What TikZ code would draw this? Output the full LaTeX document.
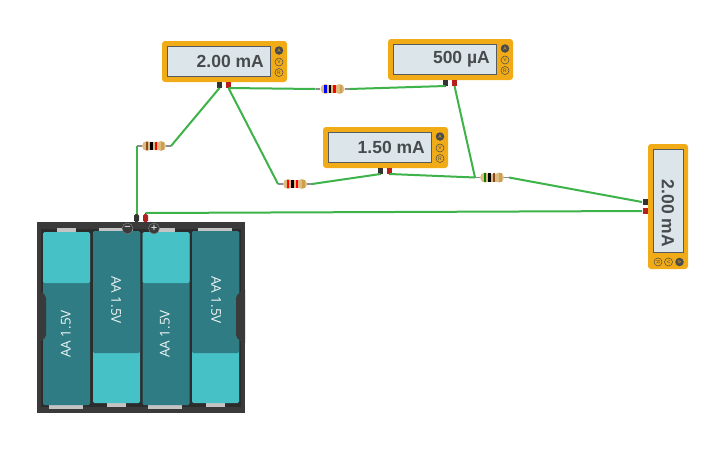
\documentclass[tikz,border=0pt]{standalone}
\usepackage{fontspec}
\setmainfont{Liberation Sans}
\newfontfamily\cellfont{Open Sans}
\definecolor{meterorange}{HTML}{F0AB17}
\definecolor{screenfill}{HTML}{DCE5E9}
\definecolor{screenedge}{HTML}{555B5E}
\definecolor{readout}{HTML}{474B4D}
\definecolor{wiregreen}{HTML}{3DB34A}
\definecolor{leadgrey}{HTML}{8C8C8C}
\definecolor{bodytan}{HTML}{DDBB82}
\definecolor{bandgold}{HTML}{C9A24A}
\definecolor{bandbrown}{HTML}{8A4B20}
\definecolor{holderout}{HTML}{3A3A3A}
\definecolor{holderin}{HTML}{2C2C2C}
\definecolor{celldark}{HTML}{2F7C84}
\definecolor{celllight}{HTML}{46C1C6}
\definecolor{tabgrey}{HTML}{C4C4C4}
\definecolor{probered}{HTML}{B5201F}
\definecolor{probeblack}{HTML}{333333}
\tikzset{
  box/.style={inner sep=0pt,outer sep=0pt,rectangle},
  meterbody/.style={box,fill=meterorange,rounded corners=3pt},
  meterscreen/.style={box,fill=screenfill,draw=screenedge,line width=1.2pt},
  reading/.style={inner sep=0pt,font=\bfseries\fontsize{17.5}{18}\selectfont,text=readout},
  modeoff/.style={circle,inner sep=0pt,minimum size=8pt,draw=readout,line width=0.5pt,fill=meterorange,text=readout,font=\fontsize{5}{5}\selectfont},
  modeon/.style={circle,inner sep=0pt,minimum size=8.5pt,fill=readout,text=meterorange,font=\fontsize{5}{5}\selectfont},
  probeb/.style={box,fill=probeblack,minimum width=5.5pt,minimum height=6pt},
  prober/.style={box,fill=probered,minimum width=5.5pt,minimum height=6pt},
  wire/.style={draw=wiregreen,line width=2pt},
  lead/.style={draw=leadgrey,line width=1.3pt},
  rbody/.style={box,fill=bodytan,minimum width=20pt,minimum height=8pt},
  bulge/.style={circle,inner sep=0pt,fill=bodytan,minimum size=10pt},
  band/.style={box,minimum width=2.6pt,minimum height=8.5pt},
  cell/.style={box,rounded corners=1.5pt,minimum width=47pt},
  tab/.style={box,fill=tabgrey},
  celltext/.style={inner sep=0pt,text=white!92!celldark,font=\cellfont\fontsize{13.5}{14}\selectfont},
  polarity/.style={circle,inner sep=0pt,minimum size=11pt,fill=holderout,draw=tabgrey!70!black,line width=0.4pt,text=white,font=\fontsize{11}{11}\selectfont},
}
\newcommand{\HMeter}[4]{%
  \node[meterbody,minimum width=125pt,minimum height=41pt] (#1) at (#2,#3) {};
  \node[meterscreen,minimum width=103.5pt,minimum height=30pt] (#1s) at (#2-5.5,#3) {};
  \node[reading,anchor=east] (#1t) at (#2+39.5,#3) {#4};
  \node[modeon] (#1a) at (#2+54.5,#3-11) {A};
  \node[modeoff] (#1v) at (#2+54.5,#3+0.5) {V};
  \node[modeoff] (#1r) at (#2+54.5,#3+11) {R};
  \node[probeb] (#1pb) at (#2-5,#3+23) {};
  \node[prober] (#1pr) at (#2+4,#3+23) {};
  \coordinate (#1nb) at (#2-5,#3+26.5);
  \coordinate (#1nr) at (#2+4,#3+26.5);
  \draw[probeblack,line width=1.6pt] (#1pb.south) -- (#1nb);
  \draw[probered,line width=1.6pt] (#1pr.south) -- (#1nr);
}
\newcommand{\Resistor}[7]{%
  \coordinate (#1l) at (#2-17,#3);
  \coordinate (#1r) at (#2+17,#3);
  \node[rbody] (#1) at (#2,#3) {};
  \node[bulge] (#1e) at (#2-7,#3) {};
  \node[bulge] (#1f) at (#2+7,#3) {};
  \draw[lead] (#1l) -- (#1e.west);
  \draw[lead] (#1f.east) -- (#1r);
  \node[band,fill=#4] (#1x) at (#2-7,#3) {};
  \node[band,fill=#5] (#1y) at (#2-2.5,#3) {};
  \node[band,fill=#6] (#1z) at (#2+2,#3) {};
  \node[band,fill=#7] (#1w) at (#2+8.5,#3) {};
}
\begin{document}
\begin{tikzpicture}[x=1pt,y=-1pt]
\useasboundingbox (0,0) rectangle (725,453);
\fill[white] (0,0) rectangle (725,453);

% battery holder
\node[box,fill=holderout,minimum width=208pt,minimum height=191pt] (holder) at (141,317.5) {};
\node[box,fill=holderin,minimum width=200pt,minimum height=178pt] (inner) at (141,318) {};

% tabs
\node[tab,minimum width=19pt,minimum height=4pt] (t1a) at (66.5,230) {};
\node[tab,minimum width=34pt,minimum height=4pt] (t1b) at (66,406.5) {};
\node[tab,minimum width=34pt,minimum height=4pt] (t2a) at (116,229.5) {};
\node[tab,minimum width=19pt,minimum height=4pt] (t2b) at (116,404.5) {};
\node[tab,minimum width=19pt,minimum height=4pt] (t3a) at (165.5,230) {};
\node[tab,minimum width=34pt,minimum height=4pt] (t3b) at (165,406.5) {};
\node[tab,minimum width=34pt,minimum height=4pt] (t4a) at (215,229.5) {};
\node[tab,minimum width=19pt,minimum height=4pt] (t4b) at (215,404.5) {};

% cells
\node[cell,fill=celldark,minimum height=173pt] (c1) at (66.5,318.5) {};
\node[box,rounded corners=1.5pt,fill=celllight,minimum width=47pt,minimum height=51pt] (c1l) at (66.5,257.5) {};
\node[cell,fill=celllight,minimum height=172pt] (c2) at (116.5,317) {};
\node[box,fill=celldark,rounded corners=1.5pt,minimum width=47pt,minimum height=122pt] (c2d) at (116.5,292) {};
\node[cell,fill=celldark,minimum height=173pt] (c3) at (166,318.5) {};
\node[box,rounded corners=1.5pt,fill=celllight,minimum width=47pt,minimum height=51pt] (c3l) at (166,257.5) {};
\node[cell,fill=celllight,minimum height=172pt] (c4) at (215.5,317) {};
\node[box,fill=celldark,rounded corners=1.5pt,minimum width=47pt,minimum height=122pt] (c4d) at (215.5,292) {};

% side notches
\fill[holderout,rounded corners=2pt] (37,288) -- (46,296) -- (46,337) -- (37,345) -- cycle;
\fill[holderout,rounded corners=2pt] (245,288) -- (236,296) -- (236,337) -- (245,345) -- cycle;

\node[celltext,rotate=90] (l1) at (66,334) {AA 1.5V};
\node[celltext,rotate=-90] (l2) at (116,300) {AA 1.5V};
\node[celltext,rotate=90] (l3) at (165,334) {AA 1.5V};
\node[celltext,rotate=-90] (l4) at (216,300) {AA 1.5V};

\node[polarity] (minus) at (127.5,228.5) {−};
\node[polarity] (plus) at (154,228.5) {+};

% battery terminals
\node[box,fill=probeblack,rounded corners=1.5pt,minimum width=5pt,minimum height=8pt] (bb) at (136.5,218) {};
\node[box,fill=probered,rounded corners=1.5pt,minimum width=5pt,minimum height=8pt] (br) at (145.5,218) {};
\coordinate (brn) at (145.5,213);

% meters
\HMeter{ma}{224.5}{61.5}{2.00 mA}
\HMeter{mb}{450.5}{59.5}{500 µA}
\HMeter{mc}{385.5}{147.5}{1.50 mA}

% vertical meter
\node[meterbody,minimum width=40pt,minimum height=125pt] (md) at (668,206.5) {};
\node[meterscreen,minimum width=30pt,minimum height=103.5pt] (mds) at (668.5,201) {};
\node[reading,rotate=-90,anchor=east] (mdt) at (668,247) {2.00 mA};
\node[modeoff,rotate=-90] (mdr) at (658,262) {R};
\node[modeoff,rotate=-90] (mdv) at (668.5,262) {V};
\node[modeon,rotate=-90] (mda) at (679.5,262) {A};
\node[box,fill=probeblack,minimum width=5.5pt,minimum height=5.5pt] (mdpb) at (645.5,202) {};
\node[box,fill=probered,minimum width=5.5pt,minimum height=5.5pt] (mdpr) at (645.5,211) {};
\coordinate (mdnb) at (642,202);
\coordinate (mdnr) at (642,211);

% resistors
\Resistor{ra}{154}{146}{bandbrown}{black}{red}{bandgold}
\Resistor{rb}{332.5}{89}{blue}{black}{red}{bandgold}
\Resistor{rc}{295}{184}{red}{black}{red}{bandgold}
\Resistor{rd}{492}{177.5}{green!50!black}{black}{bandbrown}{bandgold}

\coordinate (bend) at (136.5,146);

% wires
\draw[lead] (bend) -- (ral);
\draw[wire] (bb.north) -- (bend);
\draw[wire] (rar) -- (manb);
\draw[wire] (manr) -- (rbl);
\draw[wire] (rbr) -- (mbnb);
\draw[wire] (manr) -- (rcl);
\draw[wire] (rcr) -- (mcnb);
\draw[wire] (mcnr) -- (rdl);
\draw[wire] (mbnr) -- (rdl);
\draw[wire] (rdr) -- (mdnb);
\draw[wire] (brn) -- (mdnr);
\draw[probered,line width=1.5pt] (brn) -- (br.north);
\end{tikzpicture}
\end{document}
